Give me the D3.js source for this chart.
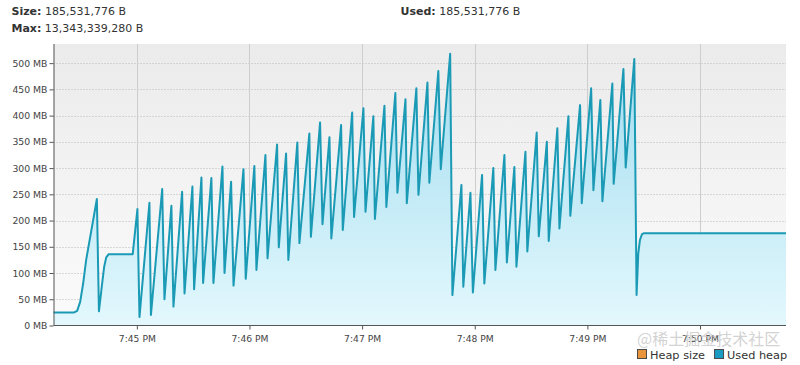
<!DOCTYPE html>
<html>
<head>
<meta charset="utf-8">
<script src="https://cdn.jsdelivr.net/npm/d3@7"></script>
<style>
  html, body { margin: 0; padding: 0; background: #ffffff; }
  svg { display: block; font-family: "DejaVu Sans", Verdana, sans-serif; }
</style>
</head>
<body>
<svg id="chart" width="800" height="365"></svg>
<script>
// ---- data ----
// seconds after 7:44:00 PM
const times = [15.6, 26.6, 28.2, 29.8, 31.4, 33.0, 38.7, 39.8, 41.5, 42.6, 43.7, 45.0, 57.8,
  60.3, 61.4, 66.7, 67.5, 73.5, 74.7, 78.4, 79.5, 84.1, 85.4, 89.6, 90.5, 94.4, 95.3,
  99.7, 100.8, 105.6, 106.7, 110.2, 111.5, 116.8, 118.0, 122.6, 123.7, 128.5, 129.6,
  134.7, 135.6, 139.5, 140.7, 145.5, 146.6, 151.9, 152.7, 157.6, 158.9, 162.6, 163.6,
  168.8, 169.7, 174.7, 175.7, 180.7, 181.8, 186.0, 186.8, 191.9, 192.9, 197.7, 198.8,
  203.1, 203.8, 208.9, 210.0, 214.8, 215.8, 220.6, 221.9, 226.9, 228.1, 232.9, 233.9,
  237.7, 239.0, 243.9, 245.1, 249.9, 251.0, 255.8, 257.1, 261.1, 262.2, 267.0, 268.0,
  273.0, 274.1, 278.4, 279.4, 284.0, 285.1, 289.9, 290.9, 296.1, 297.0, 302.0, 303.2,
  306.9, 308.0, 313.3, 314.0, 319.2, 320.4, 325.0, 326.2, 327.1, 328.0, 329.1, 330.2, 405.8];
const usedMB = [25, 25, 28, 45, 80, 125, 241, 27, 80, 112, 130, 136, 136,
  222, 16, 234, 20, 260, 50, 228, 36, 255, 61, 265, 69, 282, 81,
  281, 81, 303, 100, 274, 76, 298, 89, 304, 106, 325, 128,
  345, 149, 328, 125, 349, 157, 366, 169, 387, 193, 359, 166,
  382, 182, 406, 207, 414, 217, 399, 203, 419, 226, 443, 253,
  431, 233, 452, 249, 463, 272, 485, 298, 518, 58, 268, 74,
  253, 63, 287, 80, 300, 106, 325, 120, 302, 112, 331, 141,
  368, 170, 350, 161, 376, 185, 399, 209, 420, 233, 452, 258,
  430, 237, 461, 270, 489, 301, 508, 58, 137, 163, 174, 176, 176];
const yTicks = [0, 50, 100, 150, 200, 250, 300, 350, 400, 450, 500];
const headerLeft = [["Size:", "185,531,776 B"], ["Max:", "13,343,339,280 B"]];
const headerRight = [["Used:", "185,531,776 B"]];
const legendItems = [["Heap size", "#e8943a"], ["Used heap", "#1a9cc2"]];
const watermark = "@稀土掘金技术社区";

// ---- layout ----
const base = new Date(2020, 0, 1, 19, 44, 0);
const toDate = s => new Date(base.getTime() + s * 1000);
const data = times.map((t, i) => ({ t: toDate(t), v: usedMB[i] }));

const L = 53.5, R = 786, T = 44, B = 325.5;
const svg = d3.select("#chart");
const defs = svg.append("defs");

const bg = defs.append("linearGradient").attr("id", "bgGrad")
  .attr("x1", 0).attr("y1", 0).attr("x2", 0).attr("y2", 1);
bg.append("stop").attr("offset", "0%").attr("stop-color", "#ebebeb");
bg.append("stop").attr("offset", "100%").attr("stop-color", "#fbfbfb");

const fillG = defs.append("linearGradient").attr("id", "fillGrad")
  .attr("gradientUnits", "userSpaceOnUse")
  .attr("x1", 0).attr("y1", T).attr("x2", 0).attr("y2", B);
fillG.append("stop").attr("offset", "0%").attr("stop-color", "#9fdbee");
fillG.append("stop").attr("offset", "100%").attr("stop-color", "#e3f8fd");

const x = d3.scaleTime().domain([toDate(times[0]), toDate(times[times.length - 1])]).range([L, R]);
const y = d3.scaleLinear().domain([0, 536.5]).range([B, T]);

// background
svg.append("rect").attr("x", L).attr("y", T).attr("width", R - L).attr("height", B - T)
  .attr("fill", "url(#bgGrad)");

// horizontal dotted grid
svg.append("g").selectAll("line").data(yTicks.filter(d => d > 0)).join("line")
  .attr("x1", L).attr("x2", R)
  .attr("y1", d => Math.round(y(d)) + 0.5).attr("y2", d => Math.round(y(d)) + 0.5)
  .attr("stroke", "#b8b8b8").attr("stroke-width", 1).attr("stroke-dasharray", "1,2");

// vertical grid at minutes
const minuteTicks = x.ticks(d3.timeMinute.every(1));
svg.append("g").selectAll("line").data(minuteTicks).join("line")
  .attr("x1", d => Math.round(x(d)) + 0.5).attr("x2", d => Math.round(x(d)) + 0.5)
  .attr("y1", T).attr("y2", B)
  .attr("stroke", "#cdcdcd").attr("stroke-width", 1);

// area + line
const area = d3.area().x(d => x(d.t)).y0(y(0)).y1(d => y(d.v)).curve(d3.curveLinear);
const line = d3.line().x(d => x(d.t)).y(d => y(d.v)).curve(d3.curveLinear);
svg.append("path").datum(data).attr("d", area).attr("fill", "url(#fillGrad)");
svg.append("path").datum(data).attr("d", line).attr("fill", "none")
  .attr("stroke", "#1b9ab6").attr("stroke-width", 2).attr("stroke-linejoin", "round");

// axes
const yAxis = d3.axisLeft(y).tickValues(yTicks).tickFormat(d => d + " MB").tickSize(4).tickPadding(2);
const gy = svg.append("g").attr("transform", `translate(${L},0)`).call(yAxis);
gy.select(".domain").attr("stroke", "#555").attr("d", `M0.5,${T}V${B}`);
gy.selectAll(".tick line").attr("stroke", "#555");
gy.selectAll(".tick text").attr("fill", "#444").attr("font-size", "9.3px")
  .attr("font-family", "DejaVu Sans");

const xAxis = d3.axisBottom(x).ticks(d3.timeMinute.every(1))
  .tickFormat(d3.timeFormat("%-I:%M %p")).tickSize(4).tickPadding(6);
const gx = svg.append("g").attr("transform", `translate(0,${B})`).call(xAxis);
gx.select(".domain").attr("stroke", "#555").attr("d", `M${L},0H${R}`);
gx.selectAll(".tick line").attr("stroke", "#555");
gx.selectAll(".tick text").attr("fill", "#444").attr("font-size", "9.2px")
  .attr("font-family", "DejaVu Sans");

// header
function header(items, x0) {
  items.forEach((it, i) => {
    const t = svg.append("text").attr("x", x0).attr("y", 15 + i * 16.7)
      .attr("font-size", "11px").attr("fill", "#333");
    t.append("tspan").attr("font-weight", "bold").text(it[0]);
    t.append("tspan").text(" " + it[1]);
  });
}
header(headerLeft, 11.5);
header(headerRight, 400.5);

// watermark
svg.append("text").attr("x", 637).attr("y", 345).attr("font-size", "16px")
  .attr("font-family", "Noto Sans CJK SC").attr("fill", "#c4c4c4").attr("fill-opacity", 0.75)
  .text(watermark);

// legend
const lg = svg.append("g");
let lx = 637.5;
legendItems.forEach((it, i) => {
  lg.append("rect").attr("x", lx).attr("y", 349.5).attr("width", 9).attr("height", 9)
    .attr("fill", it[1]).attr("stroke", "#4a4a4a").attr("stroke-width", 1);
  const tx = lg.append("text").attr("x", lx + 12.5).attr("y", 358.5)
    .attr("font-size", "11.3px").attr("fill", "#333").text(it[0]);
  lx += 12.5 + tx.node().getComputedTextLength() + 9.5;
});
</script>
</body>
</html>
